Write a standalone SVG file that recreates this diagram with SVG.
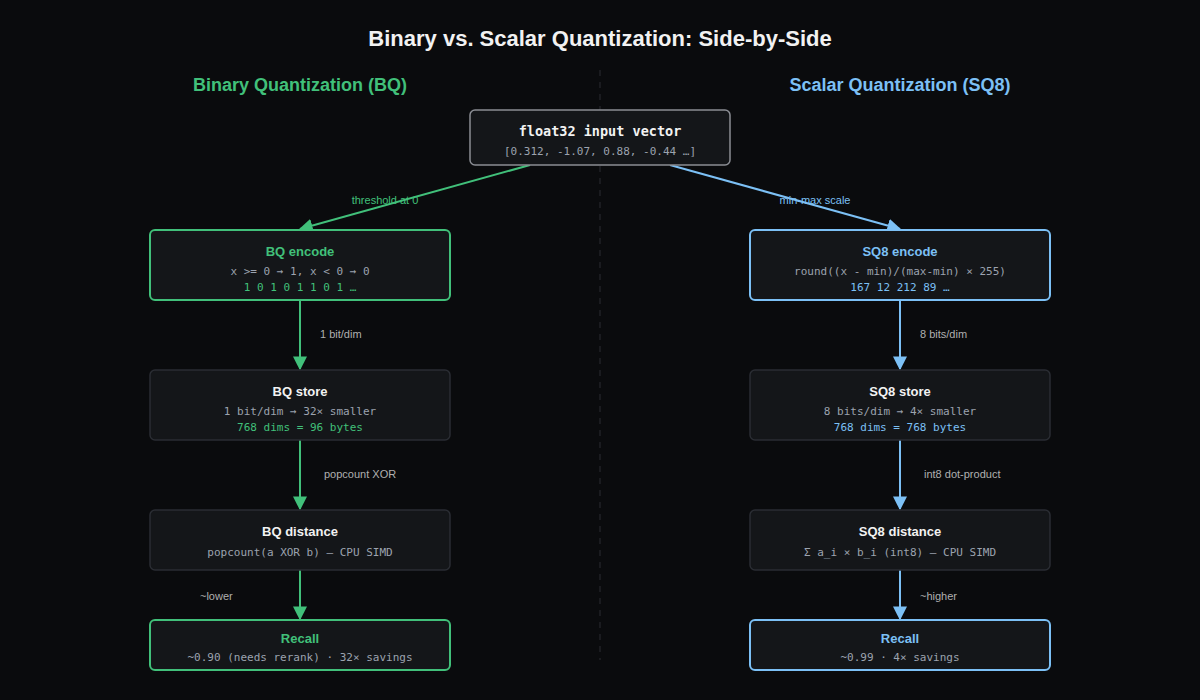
<svg xmlns="http://www.w3.org/2000/svg" width="1200" height="700" viewBox="0 0 1200 700">
<style>
.t{font-family:"Liberation Sans",Arial,sans-serif}
.m{font-family:"DejaVu Sans Mono","Liberation Mono",monospace;font-size:11px;fill:#9ca3af;text-anchor:middle}
.h{font-family:"Liberation Sans",Arial,sans-serif;font-size:13px;font-weight:bold;text-anchor:middle}
.box{fill:#141619;stroke:#2a2d33;stroke-width:1.5}
.g{fill:#41c07a}.b{fill:#7cc0f5}.w{fill:#f2f2f2}
.lbl{font-family:"Liberation Sans",Arial,sans-serif;font-size:11px}
</style>
<defs>
<marker id="ag" viewBox="0 0 10 10" refX="9" refY="5" markerWidth="14" markerHeight="14" markerUnits="userSpaceOnUse" orient="auto"><path d="M0,0L10,5L0,10z" fill="#41c07a"/></marker>
<marker id="ab" viewBox="0 0 10 10" refX="9" refY="5" markerWidth="14" markerHeight="14" markerUnits="userSpaceOnUse" orient="auto"><path d="M0,0L10,5L0,10z" fill="#7cc0f5"/></marker>
</defs>
<rect width="1200" height="700" fill="#0a0b0d"/>
<text x="600" y="46" class="t w" font-size="22" font-weight="bold" text-anchor="middle">Binary vs. Scalar Quantization: Side-by-Side</text>
<text x="300" y="91" class="t g" font-size="18" font-weight="bold" text-anchor="middle">Binary Quantization (BQ)</text>
<text x="900" y="91" class="t b" font-size="18" font-weight="bold" text-anchor="middle">Scalar Quantization (SQ8)</text>
<line x1="600" y1="70" x2="600" y2="660" stroke="#2a2d33" stroke-dasharray="6,6"/>
<g id="connectors" stroke-width="2" fill="none">
<line x1="530" y1="165" x2="300" y2="229" stroke="#41c07a" marker-end="url(#ag)"/>
<line x1="670" y1="165" x2="900" y2="229" stroke="#7cc0f5" marker-end="url(#ab)"/>
<line x1="300" y1="300" x2="300" y2="369" stroke="#41c07a" marker-end="url(#ag)"/>
<line x1="300" y1="440" x2="300" y2="509" stroke="#41c07a" marker-end="url(#ag)"/>
<line x1="300" y1="570" x2="300" y2="619" stroke="#41c07a" marker-end="url(#ag)"/>
<line x1="900" y1="300" x2="900" y2="369" stroke="#7cc0f5" marker-end="url(#ab)"/>
<line x1="900" y1="440" x2="900" y2="509" stroke="#7cc0f5" marker-end="url(#ab)"/>
<line x1="900" y1="570" x2="900" y2="619" stroke="#7cc0f5" marker-end="url(#ab)"/>
</g>
<g id="labels" class="lbl">
<text x="385" y="204" class="g" text-anchor="middle">threshold at 0</text>
<text x="815" y="204" class="b" text-anchor="middle">min-max scale</text>
<text x="320" y="338" fill="#b0b0b0">1 bit/dim</text>
<text x="324" y="478" fill="#b0b0b0">popcount XOR</text>
<text x="200" y="600" fill="#b0b0b0">~lower</text>
<text x="920" y="338" fill="#b0b0b0">8 bits/dim</text>
<text x="924" y="478" fill="#b0b0b0">int8 dot-product</text>
<text x="920" y="600" fill="#b0b0b0">~higher</text>
</g>
<g id="input"><rect x="470" y="110" width="260" height="55" rx="5" fill="#141619" stroke="#8a8d93" stroke-width="1.5"/>
<text x="600" y="136" class="w" font-family="'DejaVu Sans Mono',monospace" font-size="13.5" font-weight="bold" text-anchor="middle">float32 input vector</text>
<text x="600" y="155" class="m">[0.312, -1.07, 0.88, -0.44 …]</text></g>
<g id="bq-encode"><rect x="150" y="230" width="300" height="70" rx="5" fill="#141619" stroke="#41c07a" stroke-width="2"/>
<text x="300" y="256" class="h g">BQ encode</text><text x="300" y="275" class="m">x &gt;= 0 → 1, x &lt; 0 → 0</text><text x="300" y="291" class="m g">1 0 1 0 1 1 0 1 …</text></g>
<g id="bq-store"><rect x="150" y="370" width="300" height="70" rx="5" class="box"/>
<text x="300" y="396" class="h w">BQ store</text><text x="300" y="415" class="m">1 bit/dim → 32× smaller</text><text x="300" y="431" class="m g">768 dims = 96 bytes</text></g>
<g id="bq-distance"><rect x="150" y="510" width="300" height="60" rx="5" class="box"/>
<text x="300" y="536" class="h w">BQ distance</text><text x="300" y="556" class="m">popcount(a XOR b) — CPU SIMD</text></g>
<g id="bq-recall"><rect x="150" y="620" width="300" height="50" rx="5" fill="#141619" stroke="#41c07a" stroke-width="2"/>
<text x="300" y="643" class="h g">Recall</text><text x="300" y="661" class="m">~0.90 (needs rerank) · 32× savings</text></g>
<g id="sq-encode"><rect x="750" y="230" width="300" height="70" rx="5" fill="#141619" stroke="#7cc0f5" stroke-width="2"/>
<text x="900" y="256" class="h b">SQ8 encode</text><text x="900" y="275" class="m">round((x - min)/(max-min) × 255)</text><text x="900" y="291" class="m b">167 12 212 89 …</text></g>
<g id="sq-store"><rect x="750" y="370" width="300" height="70" rx="5" class="box"/>
<text x="900" y="396" class="h w">SQ8 store</text><text x="900" y="415" class="m">8 bits/dim → 4× smaller</text><text x="900" y="431" class="m b">768 dims = 768 bytes</text></g>
<g id="sq-distance"><rect x="750" y="510" width="300" height="60" rx="5" class="box"/>
<text x="900" y="536" class="h w">SQ8 distance</text><text x="900" y="556" class="m">Σ a_i × b_i (int8) — CPU SIMD</text></g>
<g id="sq-recall"><rect x="750" y="620" width="300" height="50" rx="5" fill="#141619" stroke="#7cc0f5" stroke-width="2"/>
<text x="900" y="643" class="h b">Recall</text><text x="900" y="661" class="m">~0.99 · 4× savings</text></g>
</svg>
